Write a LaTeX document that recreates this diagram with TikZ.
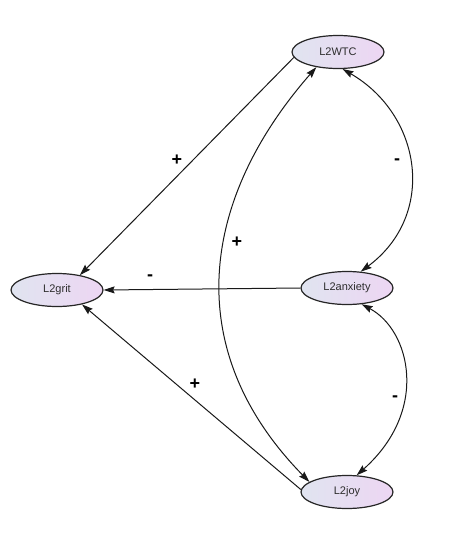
\documentclass[tikz,border=0pt]{standalone}
\usepackage{fontspec}
\setmainfont{Liberation Sans}
\usetikzlibrary{shapes.geometric,arrows.meta}
\definecolor{gL}{RGB}{224,228,240}
\definecolor{gR}{RGB}{237,214,243}
\definecolor{txt}{RGB}{45,45,45}
\begin{document}
\begin{tikzpicture}[x=1pt,y=-1pt,
  var/.style={ellipse, draw=black!85, line width=1.2pt, left color=gL, right color=gR,
    minimum width=92pt, minimum height=33pt, inner sep=0pt,
    font=\fontsize{11}{13}\selectfont, text=txt},
  conn/.style={line width=1pt, draw=black!90},
  tip/.style={-{Stealth[length=11pt,width=7pt,inset=1.5pt]}},
  both/.style={{Stealth[length=11pt,width=7pt,inset=1.5pt]}-{Stealth[length=11pt,width=7pt,inset=1.5pt]}},
  sgn/.style={font=\fontsize{18}{18}\selectfont\bfseries, inner sep=0pt}]
\useasboundingbox[fill=white] (0,0) rectangle (474,533);

\node[var] (wtc) at (338,52) {L2WTC};
\node[var] (grit) at (57,290) {L2grit};
\node[var] (anx) at (347,288) {L2anxiety};
\node[var] (joy) at (347,492) {L2joy};

% regression paths
\draw[conn,tip] (wtc.187) -- (grit.33);
\draw[conn,tip] (anx.180) -- (grit.0);
\draw[conn,tip] (joy.177) -- (grit.330);

% covariances
\draw[conn,both] (wtc.215) .. controls (200,200) and (180,350) .. (joy.165);
\draw[conn,both] (wtc.285) .. controls (422,115) and (437,215) .. (anx.50);
\draw[conn,both] (anx.312) .. controls (410,330) and (430,410) .. (joy.60);

% signs
\node[sgn] (s1) at (177,160) {+};
\node[sgn] (s2) at (150,278) {-};
\node[sgn] (s3) at (195,384) {+};
\node[sgn] (s4) at (237,242) {+};
\node[sgn] (s5) at (397,162) {-};
\node[sgn] (s6) at (395,399) {-};
\end{tikzpicture}
\end{document}
